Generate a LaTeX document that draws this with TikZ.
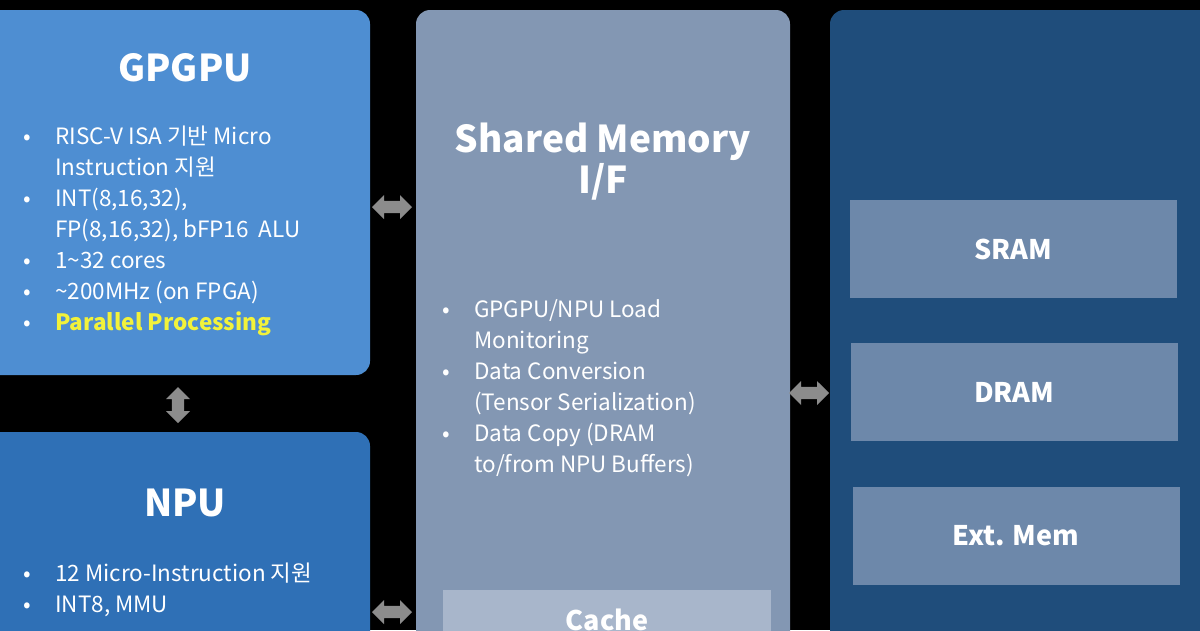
\documentclass[tikz,border=0pt]{standalone}
\usepackage{fontspec}
\setmainfont{Noto Sans CJK KR}
\usetikzlibrary{shapes.arrows}
\definecolor{gpg}{HTML}{4E8ED2}
\definecolor{npu}{HTML}{2F70B6}
\definecolor{mid}{HTML}{8397B3}
\definecolor{rgt}{HTML}{1F4D7B}
\definecolor{mem}{HTML}{6D88AA}
\definecolor{cache}{HTML}{A8B6CB}
\definecolor{arr}{HTML}{8C8C8C}
\definecolor{yel}{HTML}{F2F23A}
\newcommand{\bul}{\makebox[32pt][l]{•}}
\newcommand{\ind}{\hspace*{32pt}}
\begin{document}
\begin{tikzpicture}[x=1pt,y=-1pt,
 panel/.style={rounded corners=14pt,inner sep=0pt},
 title/.style={text=white,font=\bfseries\fontsize{37}{41}\selectfont,align=center},
 body/.style={text=white,font=\fontsize{22.5}{31}\selectfont,align=left,anchor=north west,inner sep=0pt},
 memt/.style={text=white,font=\bfseries\fontsize{27}{30}\selectfont},
 dbl/.style={double arrow,fill=arr,draw=none,minimum height=40pt,minimum width=24pt,double arrow head extend=3pt,inner sep=3pt}]
\useasboundingbox (0,0) rectangle (1200,630);
\fill (0,0) rectangle (1200,630);
\fill[gpg,panel] (-20,10) rectangle (370,375);
\fill[npu,panel] (-20,432) rectangle (370,660);
\fill[mid,panel] (416,10) rectangle (790,660);
\fill[rgt,panel] (830,10) rectangle (1220,660);
\node[title] (tg) at (185,68) {GPGPU};
\node[body] (bg) at (23,126) {\bul RISC-V ISA 기반 Micro\\
\ind Instruction 지원\\
\bul INT(8,16,32),\\
\ind FP(8,16,32), bFP16\ \ ALU\\
\bul 1\textasciitilde32 cores\\
\bul \textasciitilde200MHz (on FPGA)\\
\bul \textcolor{yel}{\textbf{Parallel Processing}}};
\node[title] (tn) at (185,503) {NPU};
\node[body] (bn) at (23,563) {\bul 12 Micro-Instruction 지원\\
\bul INT8, MMU};
\node[title] (ts) at (603,162) {Shared Memory\\I/F};
\node[body] (bs) at (442,299) {\bul GPGPU/NPU Load\\
\ind Monitoring\\
\bul Data Conversion\\
\ind (Tensor Serialization)\\
\bul Data Copy (DRAM\\
\ind to/from NPU Buffers)};
\fill[cache] (443,590) rectangle (771,640);
\node[memt] (cache) at (607,620) {Cache};
\fill[mem] (850,200) rectangle (1177,298);
\node[memt] (sram) at (1013,249) {SRAM};
\fill[mem] (851,343) rectangle (1178,441);
\node[memt] (dram) at (1014,392) {DRAM};
\fill[mem] (853,487) rectangle (1180,585);
\node[memt] (ext) at (1016,536) {Ext. Mem};
\node[dbl] (a1) at (392,207) {};
\node[dbl,rotate=90,minimum height=36pt] (a2) at (178,405) {};
\node[dbl] (a3) at (392,612) {};
\node[dbl] (a4) at (809,393) {};
\end{tikzpicture}
\end{document}
